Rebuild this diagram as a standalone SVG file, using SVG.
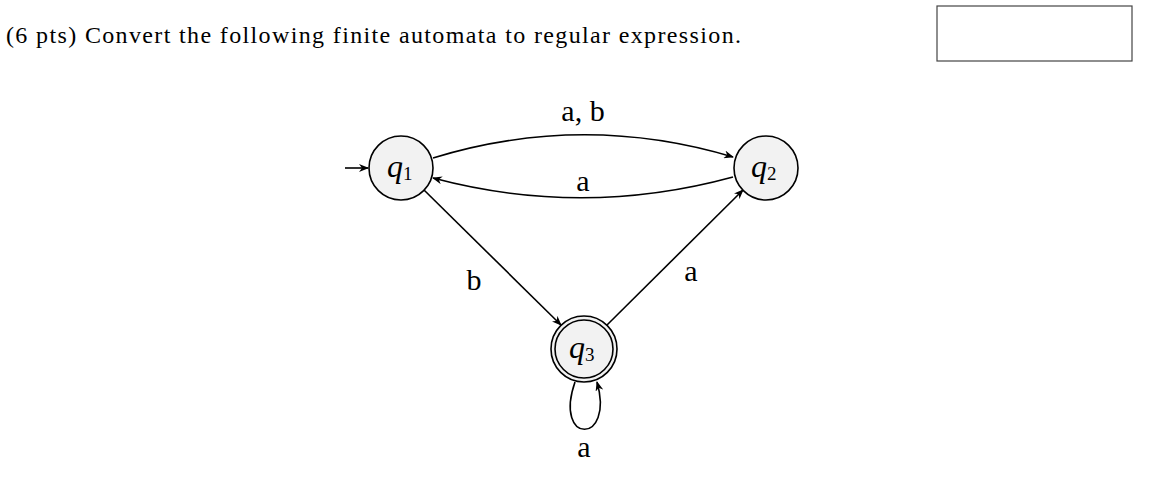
<svg xmlns="http://www.w3.org/2000/svg" width="1154" height="504" viewBox="0 0 1154 504">
<style>
text{font-family:"Liberation Serif","DejaVu Serif",serif;fill:#000}
.n{fill:#f2f2f2;stroke:#000;stroke-width:1.6}
.e{fill:none;stroke:#000;stroke-width:1.6;marker-end:url(#ah)}
.q{font-style:italic;font-size:32px}
.s{font-size:19px;font-style:normal}
.l{font-size:30px}
</style>
<defs><marker id="ah" markerWidth="10" markerHeight="8" refX="9" refY="4" orient="auto" markerUnits="userSpaceOnUse"><path d="M0,0 L10,4 L0,8 L3,4 Z" fill="#000"/></marker></defs>
<rect width="1154" height="504" fill="#fff"/>
<text x="6" y="43" font-size="24" textLength="735" lengthAdjust="spacing">(6 pts) Convert the following finite automata to regular expression.</text>
<rect x="937" y="6" width="195" height="55" fill="#fff" stroke="#444" stroke-width="1.2"/>
<g id="connectors">
<path class="e" d="M345,168 L368,168"/>
<path class="e" d="M433,158 Q583,112 733,157"/>
<path class="e" d="M733,177 Q583,218 433,178"/>
<path class="e" d="M424,190 L561,325"/>
<path class="e" d="M607,325 L743,190"/>
<path class="e" d="M575,382 C553,445 615,445 597,382"/>
<text class="l" x="583" y="121" text-anchor="middle">a, b</text>
<text class="l" x="583" y="191" text-anchor="middle">a</text>
<text class="l" x="474" y="290" text-anchor="middle">b</text>
<text class="l" x="691" y="281" text-anchor="middle">a</text>
<text class="l" x="584" y="457" text-anchor="middle">a</text>
</g>
<g id="q1"><circle class="n" cx="401" cy="168" r="32"/><text class="q" x="387" y="177">q<tspan class="s" dy="3">1</tspan></text></g>
<g id="q2"><circle class="n" cx="766" cy="168" r="32"/><text class="q" x="751" y="177">q<tspan class="s" dy="3">2</tspan></text></g>
<g id="q3"><circle class="n" cx="584" cy="349" r="33"/><circle cx="584" cy="349" r="29" fill="none" stroke="#000" stroke-width="1.6"/><text class="q" x="569" y="358">q<tspan class="s" dy="3">3</tspan></text></g>
</svg>
